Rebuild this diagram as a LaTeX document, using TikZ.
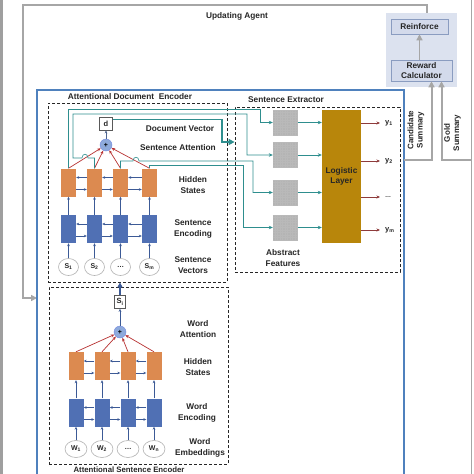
\documentclass[tikz,border=0pt]{standalone}
\usepackage{fontspec}
\setmainfont{Liberation Sans}
\usetikzlibrary{arrows.meta,shapes.geometric,calc}
\definecolor{orng}{HTML}{DC8A50}
\definecolor{blu}{HTML}{5070B4}
\definecolor{circ}{HTML}{8EAADB}
\definecolor{redar}{HTML}{B83232}
\definecolor{bluar}{HTML}{3C5A96}
\definecolor{teal1}{HTML}{2E8E8E}
\definecolor{goldl}{HTML}{B8860B}
\definecolor{featg}{HTML}{B4B4B4}
\definecolor{agentb}{HTML}{4F81BD}
\definecolor{garr}{HTML}{A6A6A6}
\definecolor{panel}{HTML}{DCE2EF}
\definecolor{pbox}{HTML}{D3DAEB}
\definecolor{pbord}{HTML}{8A9CC0}
\definecolor{txt}{HTML}{262626}
\definecolor{outar}{HTML}{8E3B3B}
\newcommand{\mydots}{\ldots}
\begin{document}
\begin{tikzpicture}[x=1pt,y=-1pt,
  lbl/.style={font=\bfseries\fontsize{8.3}{10.3}\selectfont, text=txt, align=center, inner sep=0},
  orect/.style={rectangle, fill=orng, minimum width=15pt, minimum height=28pt, inner sep=0},
  brect/.style={rectangle, fill=blu, minimum width=15pt, minimum height=28pt, inner sep=0},
  sell/.style={ellipse, draw=gray!60, line width=0.6pt, fill=white, minimum width=20pt, minimum height=17pt, inner sep=0, font=\bfseries\fontsize{7}{8}\selectfont, text=txt},
  plusc/.style={circle, fill=circ, draw=circ!80!blue, minimum size=12pt, inner sep=0, font=\bfseries\fontsize{7}{7}\selectfont},
  vbox/.style={rectangle, draw=gray!70!black, fill=white, line width=0.6pt, minimum width=13pt, minimum height=13pt, inner sep=0, font=\bfseries\fontsize{7.5}{8}\selectfont, text=txt},
  dbox/.style={rectangle, draw=txt, dash pattern=on 3pt off 2pt, line width=0.8pt, inner sep=0},
  sarr/.style={-{Stealth[length=3pt,width=2.6pt]}, bluar, line width=0.6pt},
  rarr/.style={-{Stealth[length=3.5pt,width=3pt]}, redar, line width=0.7pt},
  tl/.style={teal1, line width=0.6pt},
  tarr/.style={tl, -{Stealth[length=4pt,width=3.5pt]}},
  gar/.style={garr, line width=2pt, -{Triangle[length=6pt,width=6pt]}},
  feat/.style={rectangle, fill=featg, minimum width=25pt, minimum height=25pt, inner sep=0},
  oarr/.style={-{Stealth[length=3.5pt,width=3pt]}, outar, line width=0.7pt},
  pbx/.style={rectangle, fill=pbox, draw=pbord, line width=0.6pt, inner sep=0, font=\bfseries\fontsize{8.3}{10}\selectfont, text=txt, align=center}
]
\useasboundingbox (0,0) rectangle (474,474);
\fill[white] (0,0) rectangle (474,474);
\fill[gray!75] (0,0) rectangle (3,474);
\draw[gray!70, line width=1.2pt] (471.5,0) -- (471.5,474);

% reinforcement panel
\node[fill=panel, minimum width=71pt, minimum height=74pt, inner sep=0] (pan) at (421.5,50) {};
\node[pbx, minimum width=57pt, minimum height=15pt] (rf) at (419.5,26.5) {Reinforce};
\node[pbx, minimum width=61pt, minimum height=21pt] (rc) at (421.5,70.5) {Reward\\Calculator};
\draw[garr, line width=1.8pt, -{Triangle[length=6pt,width=6pt]}] (rc.north -| rf.south) -- (rf.south);

% updating agent loop
\coordinate (ua) at (23,5);
\coordinate (ain) at (37,298);
\draw[gar] ([xshift=5.5pt]pan.north) |- (ua) |- (ain);
\node[lbl] (uat) at (237,16) {Updating Agent};

% agent box
\draw[agentb, line width=1.3pt] (37,480) |- (404,90) -- (404,480);

% summaries
\coordinate (cs) at (404,160);
\coordinate (gs) at (471,160);
\draw[gar] (cs) -| ([xshift=10pt]rc.south);
\draw[gar] (gs) -| ([xshift=20pt]rc.south);
\node[lbl, rotate=90, font=\bfseries\fontsize{8}{9.2}\selectfont] (cst) at (416,130) {Candidate\\Summary};
\node[lbl, rotate=90, font=\bfseries\fontsize{8}{9.2}\selectfont] (gst) at (452.5,133) {Gold\\Summary};

% dashed boxes
\node[dbox, minimum width=179pt, minimum height=179pt] (denc) at (137.5,192.5) {};
\node[dbox, minimum width=165pt, minimum height=165pt] (sext) at (317.5,189.5) {};
\node[dbox, minimum width=179pt, minimum height=177pt] (senc) at (138.5,375.5) {};
\node[lbl] (dencl) at (130,97) {Attentional Document\ \ Encoder};
\node[lbl] (sextl) at (286,100) {Sentence Extractor};
\node[lbl, font=\bfseries\fontsize{7.8}{9}\selectfont] (sencl) at (129,469.5) {Attentional Sentence Encoder};

% ---------- document encoder ----------
\foreach \i/\x/\t in {1/68.5/S\textsubscript{1},2/94.5/S\textsubscript{2},3/120.5/\mydots,4/149.5/S\textsubscript{m}}{
  \node[orect] (do\i) at (\x,182.5) {};
  \node[brect] (db\i) at (\x,229) {};
  \node[sell] (ds\i) at (\x,267) {\t};
  \draw[sarr] (ds\i.north) -- (db\i.south);
  \draw[sarr] (db\i.north) -- (do\i.south);
}
\foreach \a/\b in {1/2,2/3,3/4}{
  \draw[sarr] ([yshift=5pt]do\b.west) -- ([yshift=5pt]do\a.east);
  \draw[sarr] ([yshift=-7pt]do\a.east) -- ([yshift=-7pt]do\b.west);
  \draw[sarr] ([yshift=5pt]db\b.west) -- ([yshift=5pt]db\a.east);
  \draw[sarr] ([yshift=-7pt]db\a.east) -- ([yshift=-7pt]db\b.west);
}
\node[plusc] (dpc) at (106,145) {+};
\node[vbox] (dv) at (106,123.5) {d};
\draw[sarr, bluar!70!gray] (dpc.north) -- (dv.south);
\foreach \i in {1,2,3,4}{ \draw[rarr] (do\i.north) -- (dpc); }
\node[lbl] (dvl) at (180,129) {Document Vector};
\node[lbl] (sal) at (178,148) {Sentence Attention};
\node[lbl] (hsl) at (193,185) {Hidden\\States};
\node[lbl] (sel) at (193,229) {Sentence\\Encoding};
\node[lbl] (svl) at (193,265) {Sentence\\Vectors};

% ---------- sentence extractor ----------
\node[feat] (f1) at (285.5,122.5) {};
\node[feat] (f2) at (285.5,155) {};
\node[feat] (f3) at (285.5,192.5) {};
\node[feat] (f4) at (285.5,227.5) {};
\foreach \f in {f1,f2,f3,f4}{
  \draw[gray!55, line width=0.3pt, step=2.5pt] (\f.south west) grid (\f.north east);
}
\node[rectangle, fill=goldl, minimum width=39pt, minimum height=133pt, inner sep=0, font=\bfseries\fontsize{8.3}{10.3}\selectfont, text=black!85, align=center] (lg) at (341.5,176.5) {Logistic\\Layer};
\foreach \f in {f1,f2,f3,f4}{ \draw[tarr] (\f.east) -- (\f.east -| lg.west); }
\node[lbl, anchor=west, font=\bfseries\fontsize{7.5}{8}\selectfont] (y1) at (385,123) {y\textsubscript{1}};
\node[lbl, anchor=west, font=\bfseries\fontsize{7.5}{8}\selectfont] (y2) at (385,161) {y\textsubscript{2}};
\node[lbl, anchor=west, font=\bfseries\fontsize{6}{8}\selectfont] (y3) at (385,197) {\mydots};
\node[lbl, anchor=west, font=\bfseries\fontsize{7.5}{8}\selectfont] (y4) at (385,230) {y\textsubscript{m}};
\foreach \y in {y1,y2,y3,y4}{ \draw[oarr, shorten >=5pt] (lg.east |- \y.west) -- (\y.west); }
\node[lbl] (afl) at (283,258) {Abstract\\Features};

% teal connections
\coordinate (dvc) at (222,142);
\draw[teal1, line width=1.8pt, -{Triangle[length=6pt,width=6pt]}] ([yshift=4pt]dv.east) -| (dvc) -- (dvc -| sext.west);
\draw[tarr] (do1.north) |- (260,109) |- (f1.west);
\draw[tarr] (do2.north) -- (94.5,158) -- (88,158) .. controls (88,153) and (82,153) .. (82,158) -- (73,158) |- (247,114) |- (f2.west);
\draw[tarr] (do3.north) -- (120.5,161) -- (133,161) .. controls (133,156) and (139,156) .. (139,161) -- (253,161) |- (f3.west);
\draw[tarr] (do4.north) -- (149.5,165) -- (243,165) |- (f4.west);

% ---------- sentence encoder ----------
\foreach \i/\x/\t in {1/76/W\textsubscript{1},2/102/W\textsubscript{2},3/128/\mydots,4/154/W\textsubscript{n}}{
  \node[orect] (so\i) at (\x,366) {};
  \node[brect] (sb\i) at (\x,412.5) {};
  \node[sell, minimum width=22pt] (sw\i) at (\x,449) {\t};
  \draw[sarr] (sw\i.north) -- (sb\i.south);
  \draw[sarr] (sb\i.north) -- (so\i.south);
}
\foreach \a/\b in {1/2,2/3,3/4}{
  \draw[sarr] ([yshift=5pt]so\b.west) -- ([yshift=5pt]so\a.east);
  \draw[sarr] ([yshift=-7pt]so\a.east) -- ([yshift=-7pt]so\b.west);
  \draw[sarr] ([yshift=5pt]sb\b.west) -- ([yshift=5pt]sb\a.east);
  \draw[sarr] ([yshift=-7pt]sb\a.east) -- ([yshift=-7pt]sb\b.west);
}
\node[plusc] (spc) at (120,332) {+};
\node[vbox, minimum width=11pt] (si) at (120,302) {S\textsubscript{i}};
\draw[sarr] (spc.north) -- (si.south);
\foreach \i in {1,2,3,4}{ \draw[rarr] (so\i.north) -- (spc); }
\draw[bluar, line width=1.6pt, -{Triangle[length=5pt,width=5pt]}] (si.north) -- (si.north |- denc.south);
\node[lbl] (wal) at (198,329) {Word\\Attention};
\node[lbl] (whl) at (198,367) {Hidden\\States};
\node[lbl] (wel) at (197,413) {Word\\Encoding};
\node[lbl] (wbl) at (200,448) {Word\\Embeddings};
\end{tikzpicture}
\end{document}
